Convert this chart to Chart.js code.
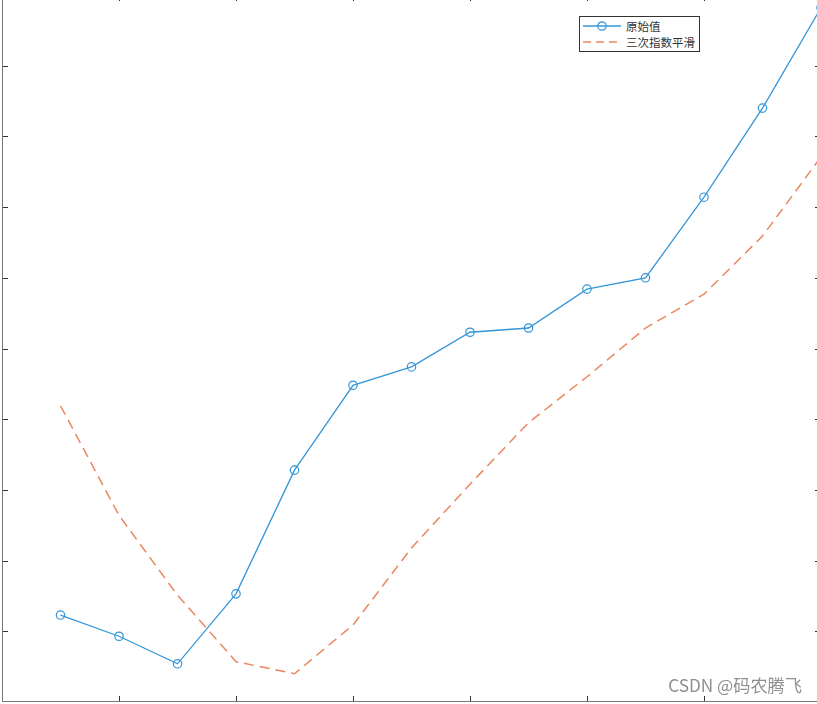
<!DOCTYPE html>
<html>
<head>
<meta charset="utf-8">
<script src="https://cdn.jsdelivr.net/npm/chart.js@4"></script>
<style>
  html, body { margin: 0; padding: 0; width: 817px; height: 704px; overflow: hidden; background: #fff; position: relative; }
  #plot { position: absolute; left: 2px; top: -5px; }
  #legend { position: absolute; left: 579px; top: 16px; width: 119px; height: 34px; border: 1px solid #333; background: #fff;
            font-family: "Noto Sans CJK SC", sans-serif; font-size: 11.5px; color: #333; }
  .row { position: absolute; left: 0; height: 16px; line-height: 16px; }
  .row span { position: absolute; left: 46px; white-space: nowrap; }
  #mark { position: absolute; right: 15px; bottom: 7px; font-family: "Noto Sans CJK SC", sans-serif; font-size: 17.2px; color: #8f8f8f; }
</style>
</head>
<body>
<canvas id="plot" width="819" height="707"></canvas>
<div id="legend">
  <div class="row" style="top:1px"><svg width="44" height="16"><line x1="3" y1="8" x2="41" y2="8" stroke="rgb(52,150,216)" stroke-width="1.3"/><circle cx="22" cy="8" r="4.2" fill="none" stroke="rgb(52,150,216)" stroke-width="1.2"/></svg><span>原始值</span></div>
  <div class="row" style="top:17px"><svg width="44" height="16"><line x1="3" y1="8" x2="41" y2="8" stroke="rgb(234,135,95)" stroke-width="1.4" stroke-dasharray="8,5"/></svg><span>三次指数平滑</span></div>
</div>
<div id="mark">CSDN @码农腾飞</div>
<script>
var xValues = [1, 2, 3, 4, 5, 6, 7, 8, 9, 10, 11, 12, 13, 14];
var original = [1.23, 0.93, 0.54, 1.53, 3.28, 4.48, 4.74, 5.23, 5.29, 5.84, 6.00, 7.14, 8.40, 9.82];
var smoothed = [4.19, 2.64, 1.51, 0.57, 0.40, 1.09, 2.18, 3.08, 3.95, 4.60, 5.29, 5.77, 6.59, 7.71];
var xTicks = [2, 4, 6, 8, 10, 12];
var yTicks = [1, 2, 3, 4, 5, 6, 7, 8, 9];

function toPoints(ys) {
  var pts = [];
  for (var i in xValues) {
    pts.push({ x: xValues[i], y: ys[i] });
  }
  return pts;
}

// matlab style ticks pointing inward, on all four sides
var innerTicks = {
  id: 'innerTicks',
  afterDraw: function(chart) {
    var ctx = chart.ctx;
    var area = chart.chartArea;
    var xs = chart.scales.x, ys = chart.scales.y;
    ctx.save();
    ctx.strokeStyle = '#333';
    ctx.lineWidth = 1;
    ctx.beginPath();
    xTicks.forEach(function(v) {
      var px = Math.round(xs.getPixelForValue(v)) + 0.5;
      ctx.moveTo(px, area.bottom); ctx.lineTo(px, area.bottom - 6);
      ctx.moveTo(px, area.top); ctx.lineTo(px, area.top + 6);
    });
    yTicks.forEach(function(v) {
      var py = Math.round(ys.getPixelForValue(v)) + 0.5;
      ctx.moveTo(area.left, py); ctx.lineTo(area.left + 6, py);
      ctx.moveTo(area.right, py); ctx.lineTo(area.right - 6, py);
    });
    ctx.stroke();
    ctx.strokeStyle = '#777';
    ctx.strokeRect(area.left + 0.5, area.top + 0.5, area.right - area.left - 1, area.bottom - area.top - 1);
    ctx.restore();
  }
};

var ctx = document.getElementById('plot').getContext('2d');
new Chart(ctx, {
  type: 'line',
  data: {
    datasets: [
      {
        label: '原始值',
        data: toPoints(original),
        borderColor: 'rgb(52,150,216)',
        borderWidth: 1.3,
        pointStyle: 'circle',
        pointRadius: 4.2,
        pointBorderWidth: 1.2,
        pointBorderColor: 'rgb(52,150,216)',
        pointBackgroundColor: 'rgba(0,0,0,0)',
        tension: 0
      },
      {
        label: '三次指数平滑',
        data: toPoints(smoothed),
        borderColor: 'rgb(234,135,95)',
        borderWidth: 1.5,
        borderDash: [10, 6],
        pointRadius: 0,
        tension: 0
      }
    ]
  },
  options: {
    responsive: false,
    animation: false,
    devicePixelRatio: 1,
    layout: { padding: 0, autoPadding: false },
    plugins: {
      legend: { display: false },
      tooltip: { enabled: false }
    },
    scales: {
      x: { type: 'linear', min: 0, max: 14, display: false },
      y: { min: 0, max: 10, display: false }
    }
  },
  plugins: [innerTicks]
});
</script>
</body>
</html>
